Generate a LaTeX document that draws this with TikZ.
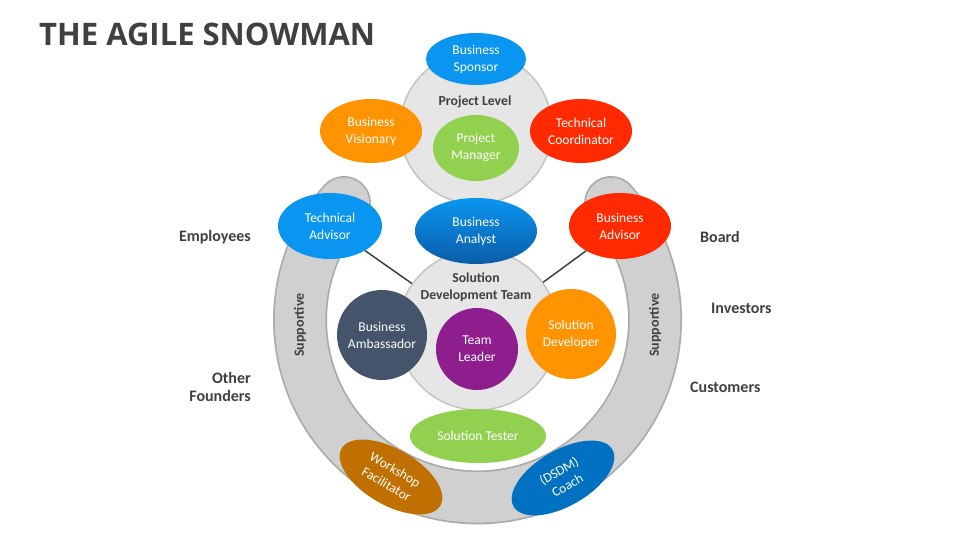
\documentclass[tikz,border=0pt]{standalone}
\usepackage{fontspec}
\setmainfont{Carlito}
\newfontfamily\titlefont{Open Sans}
\usetikzlibrary{shapes.geometric}
\definecolor{txtgray}{HTML}{404040}
\definecolor{bandfill}{HTML}{D0D0D0}
\definecolor{bandline}{HTML}{ABABAB}
\definecolor{circfill}{HTML}{E6E6E6}
\definecolor{circline}{HTML}{C4C4C4}
\definecolor{cblue}{HTML}{0A96F0}
\definecolor{cbluedark}{HTML}{0A5CA8}
\definecolor{cred}{HTML}{FF2A00}
\definecolor{corange}{HTML}{FF9300}
\definecolor{cgreen}{HTML}{92D050}
\definecolor{cslate}{HTML}{44546A}
\definecolor{cpurple}{HTML}{8E1E8E}
\definecolor{cbrown}{HTML}{C07000}
\definecolor{ccoach}{HTML}{0070C0}
\tikzset{
  role/.style={ellipse, draw=none, inner sep=0pt, text=white, align=center,
    font=\fontsize{13.5}{17}\selectfont},
  rolecirc/.style={circle, draw=none, inner sep=0pt, text=white, align=center,
    font=\fontsize{13.5}{17}\selectfont},
  biglabel/.style={text=txtgray, font=\fontsize{16}{18}\selectfont\bfseries, inner sep=0pt},
  grouplabel/.style={text=txtgray, font=\fontsize{13.75}{17}\selectfont\bfseries, inner sep=0pt, align=center},
  bigcirc/.style={circle, fill=circfill, draw=circline, line width=1.5pt, inner sep=0pt},
  link/.style={draw=txtgray, line width=1.5pt}
}
\begin{document}
\begin{tikzpicture}[x=1pt,y=1pt]
\useasboundingbox (0,0) rectangle (960,540);
\fill[white] (0,0) rectangle (960,540);
% title
\node[anchor=west, text=txtgray, font=\titlefont\fontsize{31}{34}\selectfont\bfseries, inner sep=0pt] (title) at (39,506) {THE AGILE SNOWMAN};
% band
\draw[line width=54pt, bandline, line cap=round] (344,337) arc[start angle=138.8, end angle=401.2, radius=177.5];
\draw[line width=50.5pt, bandfill, line cap=round] (344,337) arc[start angle=138.8, end angle=401.2, radius=177.5];
\node[grouplabel, font=\fontsize{14}{16}\selectfont\bfseries, rotate=90] (supl) at (300,215) {Supportive};
\node[grouplabel, font=\fontsize{14}{16}\selectfont\bfseries, rotate=90] (supr) at (655,215) {Supportive};
% big circles
\node[bigcirc, minimum size=152pt] (topc) at (476,412) {};
\node[bigcirc, minimum size=160pt] (lowc) at (478,210) {};
\node[grouplabel] (pl) at (475,438) {Project Level};
\node[grouplabel] (sdt) at (476,253) {Solution\\Development Team};
% top roles
\node[role, fill=cblue, minimum width=100pt, minimum height=52pt] (bs) at (476,481) {Business\\Sponsor};
\node[role, fill=corange, minimum width=102pt, minimum height=64pt] (bv) at (371,409) {Business\\Visionary};
\node[role, fill=cgreen, minimum width=86pt, minimum height=66pt] (pm) at (476,392) {Project\\Manager};
\node[role, fill=cred, minimum width=102pt, minimum height=64pt] (tc) at (581,409) {Technical\\Coordinator};
% middle roles
\node[role, fill=cblue, minimum width=104pt, minimum height=66pt] (ta) at (330,314) {Technical\\Advisor};
\node[role, top color=cblue, bottom color=cbluedark, minimum width=122pt, minimum height=66pt] (ba) at (476,309) {Business\\Analyst};
\node[role, fill=cred, minimum width=102pt, minimum height=66pt] (bad) at (620,314) {Business\\Advisor};
\draw[link] (ta) -- (lowc);
\draw[link] (bad) -- (lowc);
% lower roles
\node[rolecirc, fill=cslate, minimum size=90pt] (bam) at (382,205) {Business\\Ambassador};
\node[rolecirc, fill=cpurple, minimum size=82pt] (tl) at (477,191) {Team\\Leader};
\node[rolecirc, fill=corange, minimum size=90pt] (sd) at (571,206) {Solution\\Developer};
\node[role, fill=cgreen, minimum width=136pt, minimum height=54pt] (st) at (478,104) {Solution Tester};
\node[role, fill=cbrown, minimum width=114pt, minimum height=56pt, rotate=-30] (wf) at (391,63) {Workshop\\Facilitator};
\node[role, fill=ccoach, minimum width=114pt, minimum height=56pt, rotate=30] (dc) at (563,62) {(DSDM)\\Coach};
% outside labels
\node[biglabel, anchor=east] (emp) at (251,303) {Employees};
\node[biglabel, anchor=west] (brd) at (700,303) {Board};
\node[biglabel, anchor=west] (inv) at (711,232) {Investors};
\node[biglabel, anchor=east, align=right] (of) at (251,153) {Other\\Founders};
\node[biglabel, anchor=west] (cus) at (690,153) {Customers};
\end{tikzpicture}
\end{document}
